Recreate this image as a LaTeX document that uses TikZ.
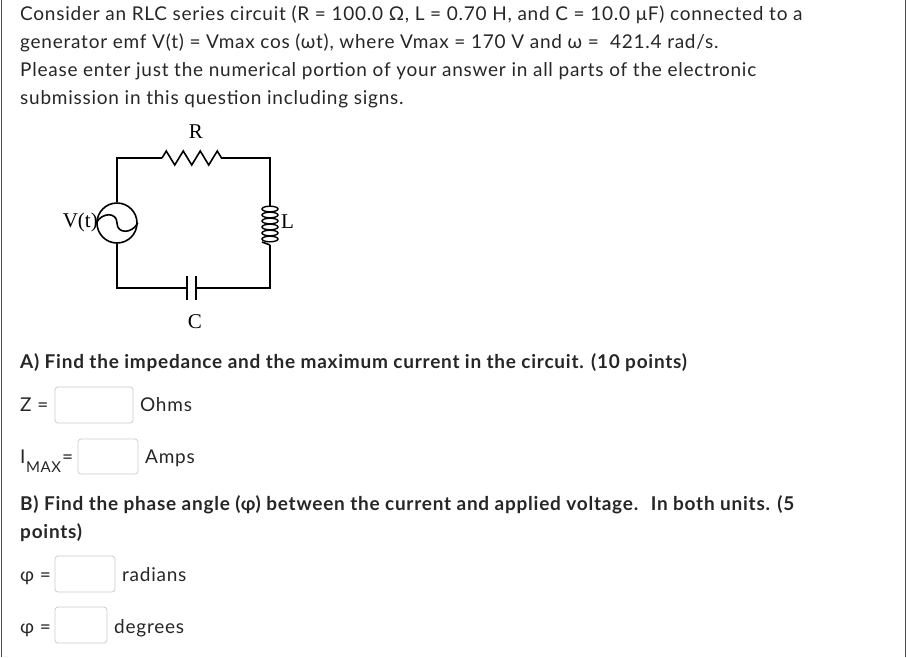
\documentclass[tikz,border=0pt]{standalone}
\usepackage{fontspec}
\setmainfont[LetterSpace=4]{Lato}
\newfontfamily\serifcirc{Liberation Serif}
\usetikzlibrary{decorations.pathmorphing}
\begin{document}
\begin{tikzpicture}[x=1pt,y=-1pt,
  txt/.style={anchor=base west,inner sep=0,font=\fontsize{19}{22}\selectfont,text=black!85},
  btxt/.style={txt,font=\fontsize{19}{22}\selectfont\bfseries},
  lab/.style={inner sep=0,font=\serifcirc\fontsize{21}{23}\selectfont},
  ansbox/.style={draw=black!20,rounded corners=3pt,line width=0.8pt},
  wire/.style={line width=1.6pt}]
\useasboundingbox (0,0) rectangle (907,657);
\draw[black!70,line width=1pt] (1,0) -- (1,657) (905,0) -- (905,657);
\node[txt] (l1) at (20,20) {Consider an RLC series circuit (R = 100.0 Ω, L = 0.70 H, and C = 10.0 μF) connected to a};
\node[txt] (l2) at (20,48) {generator emf V(t) = Vmax cos (ωt), where Vmax = 170 V and ω = \ 421.4 rad/s.};
\node[txt] (l3) at (20,76) {Please enter just the numerical portion of your answer in all parts of the electronic};
\node[txt] (l4) at (20,104) {submission in this question including signs.};
% circuit
\coordinate (tl) at (117,158); \coordinate (tr) at (270,158);
\coordinate (bl) at (117,288); \coordinate (br) at (270,288);
\coordinate (r1) at (162,158); \coordinate (r2) at (223,158);
\node[draw,circle,line width=1.6pt,minimum size=40pt,inner sep=0] (src) at (117,223) {};
\draw[wire] (src.south) -- (bl) -- (187,288);
\draw[wire] (196,288) -- (br) -- (270,245);
\draw[wire] (src.north) -- (tl) -- (r1);
\draw[wire,decorate,decoration={zigzag,segment length=17pt,amplitude=7pt}] (r1) -- (r2);
\draw[wire] (r2) -- (tr) -- (270,207);
\draw[wire] (187,276) -- (187,300) (196,276) -- (196,300);
\draw[wire] (src.west) .. controls (102,212) and (117,212) .. (117,223) .. controls (117,234) and (132,234) .. (src.east);
\foreach \yy in {209,215,221,227,233,239}{\draw[line width=1.4pt] (270,\yy) ellipse (8pt and 2.8pt);}
\draw[wire] (262,242) -- (270,245);
\node[lab] (R) at (196,132) {R};
\node[lab,anchor=east] (V) at (98,222) {V(t)};
\node[lab,anchor=west] (L) at (281,222) {L};
\node[lab] (C) at (195,322) {C};
% part A
\node[btxt] (A) at (20,368) {A) Find the impedance and the maximum current in the circuit. (10 points)};
\node[txt] (Z) at (20,411) {Z =};
\draw[ansbox] (55,387) rectangle (133,423);
\node[txt] (oh) at (140,411) {Ohms};
\node[txt] (I) at (20,463) {I};
\node[txt,font=\fontsize{15}{17}\selectfont] (mx) at (26,472) {MAX};
\node[txt] (ieq) at (62,463) {=};
\draw[ansbox] (78,439) rectangle (138,474);
\node[txt] (am) at (145,463) {Amps};
% part B
\node[btxt] (B) at (20,510) {B) Find the phase angle (φ) between the current and applied voltage. \ In both units. (5};
\node[btxt] (B2) at (20,538) {points)};
\node[txt] (p1) at (20,581) {φ =};
\draw[ansbox] (55,556) rectangle (115,592);
\node[txt] (ra) at (122,581) {radians};
\node[txt] (p2) at (20,633) {φ =};
\draw[ansbox] (55,607) rectangle (107,643);
\node[txt] (de) at (114,633) {degrees};
\end{tikzpicture}
\end{document}
